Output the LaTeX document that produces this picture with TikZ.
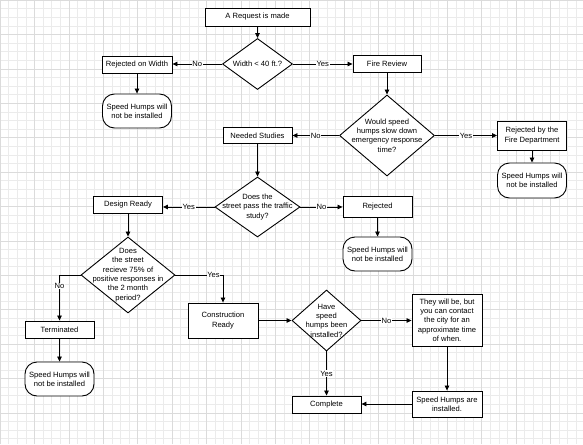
\documentclass[tikz,border=0pt]{standalone}
\usepackage{fontspec}
\setmainfont{Liberation Sans}
\usetikzlibrary{shapes.geometric,arrows.meta}
\tikzset{
  base/.style={draw=black, line width=0.9pt, fill=white, inner sep=1pt, align=center, font=\fontsize{7.6}{9.3}\selectfont},
  box/.style={base, rectangle},
  endbox/.style={base, rectangle, rounded corners=12pt},
  dia/.style={draw=black, line width=0.9pt, fill=white, diamond, inner sep=0pt, minimum width=#1},
  txt/.style={align=center, inner sep=0pt, font=\fontsize{7.6}{9.3}\selectfont},
  conn/.style={draw=black, line width=0.8pt, -{Triangle[length=5pt,width=4.5pt]}},
  lab/.style={fill=white, inner sep=0.6pt, font=\fontsize{7.6}{9}\selectfont}
}
\begin{document}
\begin{tikzpicture}[x=1pt,y=-1pt]
\useasboundingbox (0,0) rectangle (583,444);
\fill[white] (0,0) rectangle (583,444);
\draw[black!8, line width=0.4pt, step=8.6pt] (0pt,0pt) grid (583pt,-444pt);
\draw[black!14, line width=0.5pt, step=34.4pt] (0pt,0pt) grid (583pt,-444pt);

% nodes
\node[box, minimum width=105pt, minimum height=18pt] (req) at (257.5,17) {A Request is made};
\node[dia=70pt, minimum height=51pt] (d1) at (257.5,64) {};
\node[txt] at (d1) {Width < 40 ft.?};
\node[box, minimum width=70pt, minimum height=17pt] (rw) at (137,65) {Rejected on Width};
\node[endbox, minimum width=69pt, minimum height=34pt] (e1) at (137,111) {Speed Humps will\\not be installed};
\node[box, minimum width=68pt, minimum height=17pt] (fire) at (387,64) {Fire Review};
\node[dia=95pt, minimum height=81pt] (d2) at (387,135.5) {};
\node[txt] at (d2) {Would speed\\humps slow down\\emergency response\\time?};
\node[box, minimum width=69pt, minimum height=16pt] (need) at (257.5,135.5) {Needed Studies};
\node[box, minimum width=69pt, minimum height=29pt] (rfd) at (532,135.5) {Rejected by the\\Fire Department};
\node[endbox, minimum width=69pt, minimum height=35pt] (e2) at (532,180.5) {Speed Humps will\\not be installed};
\node[dia=85pt, minimum height=60pt] (d3) at (257.5,207) {};
\node[txt] at (d3) {Does the\\street pass the traffic\\study?};
\node[box, minimum width=69pt, minimum height=17pt] (design) at (128,204.5) {Design Ready};
\node[box, minimum width=69pt, minimum height=21pt] (rej) at (377.5,206.5) {Rejected};
\node[endbox, minimum width=69pt, minimum height=34pt] (e3) at (377.5,254) {Speed Humps will\\not be installed};
\node[dia=94pt, minimum height=76pt] (d4) at (128,275) {};
\node[txt] at (d4) {Does\\the street\\recieve 75\% of\\positive responses in\\the 2 month\\period?};
\node[box, minimum width=69pt, minimum height=17pt] (term) at (59.5,329.5) {Terminated};
\node[endbox, minimum width=69pt, minimum height=34pt] (e4) at (59.5,379) {Speed Humps will\\not be installed};
\node[box, minimum width=70pt, minimum height=35pt] (cons) at (223,320.5) {Construction\\Ready};
\node[dia=69pt, minimum height=61pt] (d5) at (326.5,320.5) {};
\node[txt] at (d5) {Have\\speed\\humps been\\installed?};
\node[box, minimum width=70pt, minimum height=52pt] (will) at (447,320) {They will be, but\\you can contact\\the city for an\\approximate time\\of when.};
\node[box, minimum width=69pt, minimum height=17pt] (comp) at (326.5,404.5) {Complete};
\node[box, minimum width=70pt, minimum height=26pt] (inst) at (447,404) {Speed Humps are\\installed.};

% connectors
\draw[conn] (req) -- (d1);
\draw[conn] (d1.west) -- node[lab]{No} (d1.west -| rw.east);
\draw[conn] (rw) -- (e1);
\draw[conn] (d1.east) -- node[lab]{Yes} (fire.west);
\draw[conn] (fire) -- (d2);
\draw[conn] (d2.west) -- node[lab]{No} (need.east);
\draw[conn] (d2.east) -- node[lab]{Yes} (rfd.west);
\draw[conn] (rfd) -- (e2);
\draw[conn] (need) -- (d3);
\draw[conn] (d3.west) -- node[lab]{Yes} (d3.west -| design.east);
\draw[conn] (d3.east) -- node[lab]{No} (d3.east -| rej.west);
\draw[conn] (rej) -- (e3);
\draw[conn] (design) -- (d4);
\draw[conn] (d4.west) -| node[lab, pos=0.62]{No} (term.north);
\draw[conn] (term) -- (e4);
\draw[conn] (d4.east) -| node[lab, pos=0.4]{Yes} (cons.north);
\draw[conn] (cons.east) -- (d5.west);
\draw[conn] (d5.east) -- node[lab]{No} (d5.east -| will.west);
\draw[conn] (d5) -- node[lab]{Yes} (comp);
\draw[conn] (will) -- (inst);
\draw[conn] (inst.west) -- (inst.west -| comp.east);
\end{tikzpicture}
\end{document}
